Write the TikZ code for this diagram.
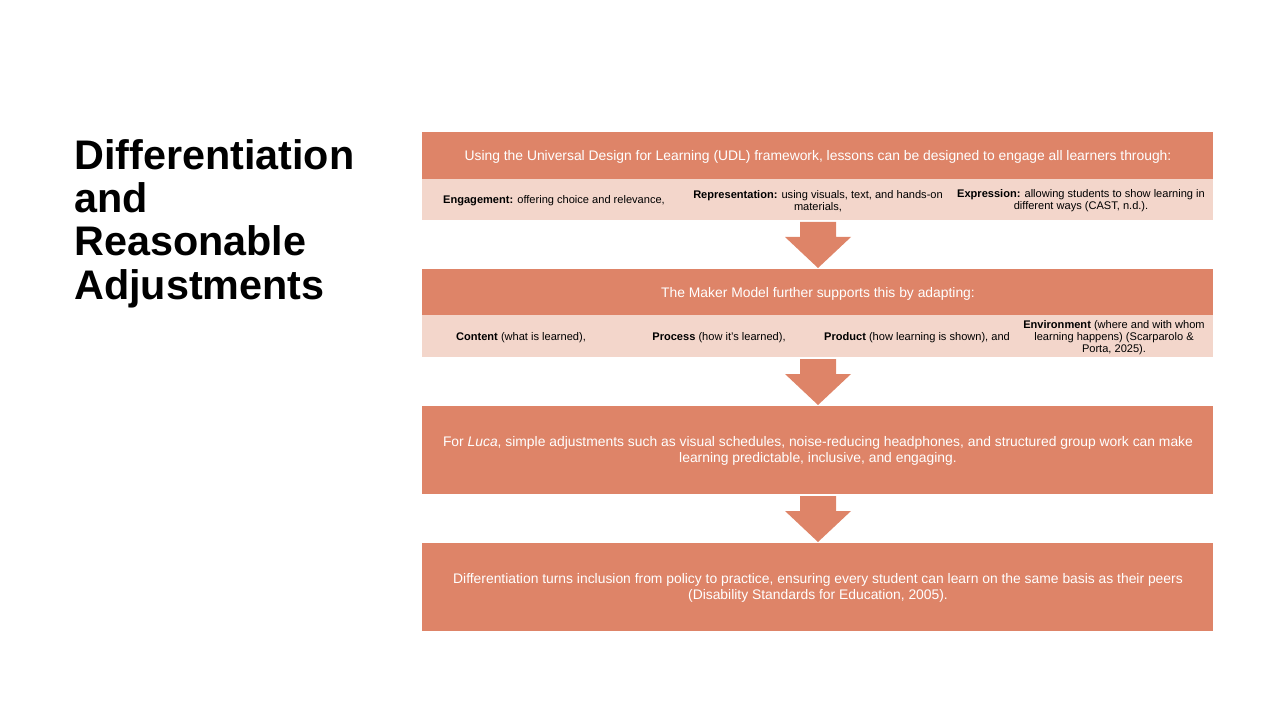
\documentclass[tikz,border=0pt]{standalone}
\usepackage{fontspec}
\setmainfont{Liberation Sans}
\begin{document}
\hyphenpenalty=10000 \exhyphenpenalty=10000
\definecolor{org}{HTML}{DE8468}
\definecolor{lt}{HTML}{F3D6CB}
\begin{tikzpicture}[x=0.75pt,y=-0.75pt,
  hdr/.style={fill=org,draw=none},
  band/.style={fill=lt,draw=none},
  htext/.style={text=white,font=\fontsize{10.4}{11.5}\selectfont,align=flush center},
  btext/.style={text=black,font=\fontsize{8.3}{9}\selectfont,align=flush center},
  arr/.style={fill=org,draw=none}]
\useasboundingbox (0,0) rectangle (1280,720);
\node[anchor=north west,align=left,font=\bfseries\fontsize{31}{32.5}\selectfont,inner sep=0] (title) at (74,139) {Differentiation\\and\\Reasonable\\Adjustments};
% box 1
\fill[hdr] (422,132) rectangle (1213,179);
\fill[band] (422,179) rectangle (1213,220);
\node[htext] (h1) at (818,157) {Using the Universal Design for Learning (UDL) framework, lessons can be designed to engage all learners through:};
\node[btext,text width=188pt] (e1) at (554,201) {\textbf{Engagement:} offering choice and relevance,};
\node[btext,text width=188pt] (e2) at (818,201) {\textbf{Representation:} using visuals, text, and hands-on materials,};
\node[btext,text width=188pt] (e3) at (1081,201) {\textbf{Expression:} allowing students to show learning in different ways (CAST, n.d.).};
% arrow 1
\fill[arr] (800,222) -- (836,222) -- (836,237) -- (851,237) -- (818,268) -- (785,237) -- (800,237) -- cycle;
% box 2
\fill[hdr] (422,269) rectangle (1213,315);
\fill[band] (422,315) rectangle (1213,357);
\node[htext] (h2) at (818,294) {The Maker Model further supports this by adapting:};
\node[btext,text width=142pt] (c1) at (521,338) {\textbf{Content} (what is learned),};
\node[btext,text width=142pt] (c2) at (719,338) {\textbf{Process} (how it's learned),};
\node[btext,text width=145pt] (c3) at (917,338) {\textbf{Product} (how learning is shown), and};
\node[btext,text width=142pt] (c4) at (1114,338) {\textbf{Environment} (where and with whom learning happens) (Scarparolo \& Porta, 2025).};
% arrow 2
\fill[arr] (800,359) -- (836,359) -- (836,374) -- (851,374) -- (818,405) -- (785,374) -- (800,374) -- cycle;
% box 3
\fill[hdr] (422,406) rectangle (1213,494);
\node[htext,text width=570pt] (h3) at (818,451) {For \textit{Luca}, simple adjustments such as visual schedules, noise-reducing headphones, and structured group work can make learning predictable, inclusive, and engaging.};
% arrow 3
\fill[arr] (800,496) -- (836,496) -- (836,511) -- (851,511) -- (818,542) -- (785,511) -- (800,511) -- cycle;
% box 4
\fill[hdr] (422,543) rectangle (1213,631);
\node[htext,text width=570pt] (h4) at (818,588) {Differentiation turns inclusion from policy to practice, ensuring every student can learn on the same basis as their peers (Disability Standards for Education, 2005).};
\end{tikzpicture}
\end{document}
